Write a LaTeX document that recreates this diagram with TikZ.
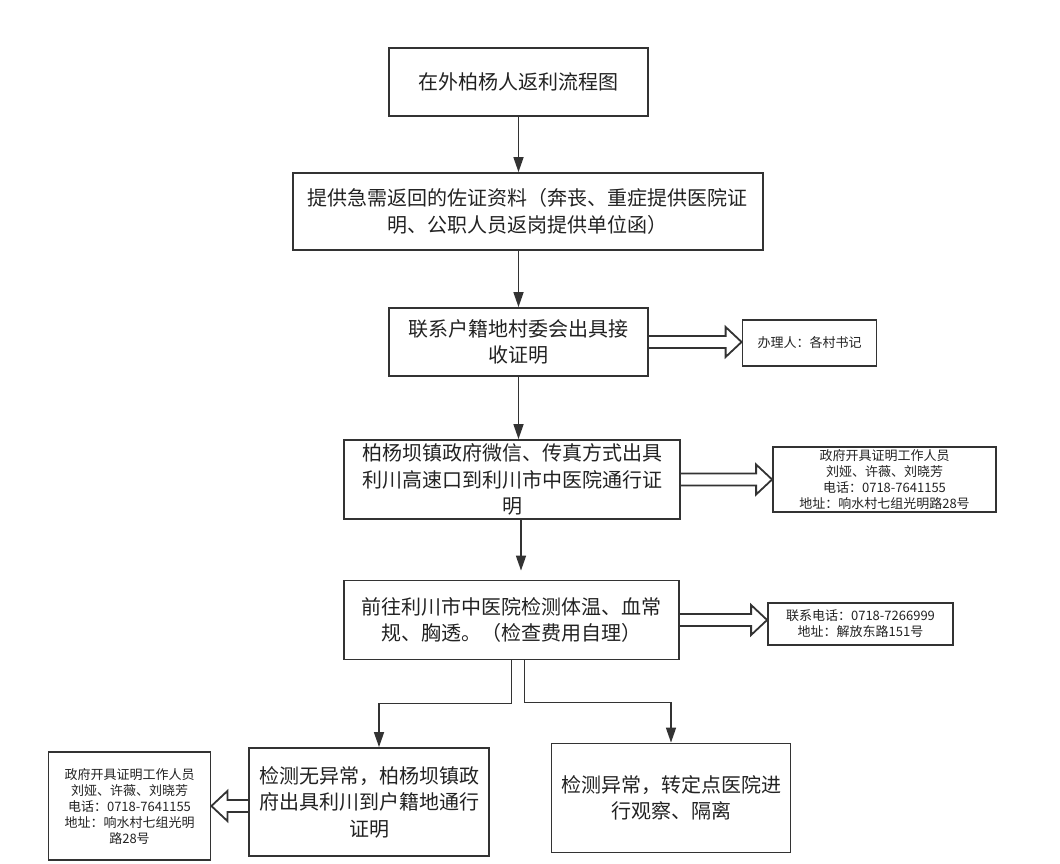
\documentclass[tikz,border=0pt]{standalone}
\usepackage{fontspec}
\usepackage{tikz}
\usetikzlibrary{arrows.meta}
\usetikzlibrary{calc}
\newfontfamily\cjk{Noto Sans CJK SC}
\definecolor{linegray}{HTML}{333333}
\definecolor{textgray}{HTML}{222222}
\newcommand{\fatarrow}[2]{%
  \draw [hollow] let \p1=(#1), \p2=(#2), \n1={16*sign(\x2-\x1)} in
    (\x1,{\y1+6pt}) -- ({\x2-\n1},{\y1+6pt}) -- ({\x2-\n1},{\y1+15pt}) -- (\x2,\y1)
    -- ({\x2-\n1},{\y1-15pt}) -- ({\x2-\n1},{\y1-6pt}) -- (\x1,{\y1-6pt});}

\begin{document}
\begin{tikzpicture}[x=1pt,y=-1pt]
\tikzset{mainbox/.style={draw=linegray, line width=1.8pt, inner sep=0pt, align=center, text=textgray, font=\cjk\fontsize{20}{26.5}\selectfont}}
\tikzset{sidebox/.style={draw=linegray, line width=1.8pt, inner sep=0pt, align=center, text=textgray, font=\cjk\fontsize{13}{16}\selectfont}}
\tikzset{flow/.style={draw=linegray, line width=1.6pt, -{Triangle[length=15pt,width=10pt]}}}
\tikzset{hollow/.style={draw=linegray, line width=1.8pt, line join=miter}}

\useasboundingbox (0,0) rectangle (1060,864);

\node [mainbox, minimum width=259pt, minimum height=68pt] (title) at (518.5,82) {在外柏杨人返利流程图};
\node [mainbox, minimum width=470pt, minimum height=77pt] (proof) at (527.7,211.5) {提供急需返回的佐证资料（奔丧、重症提供医院证\\明、公职人员返岗提供单位函）};
\node [mainbox, minimum width=259pt, minimum height=68pt] (village) at (518.5,342) {联系户籍地村委会出具接\\收证明};
\node [mainbox, minimum width=336pt, minimum height=79pt] (govt) at (512,479.5) {柏杨坝镇政府微信、传真方式出具\\利川高速口到利川市中医院通行证\\明};
\node [mainbox, minimum width=335pt, minimum height=79pt] (hosp) at (511.5,620) {前往利川市中医院检测体温、血常\\规、胸透。（检查费用自理）};
\node [mainbox, minimum width=240pt, minimum height=108pt] (normal) at (369,802) {检测无异常，柏杨坝镇政\\府出具利川到户籍地通行\\证明};
\node [mainbox, minimum width=239pt, minimum height=109pt] (abnormal) at (671,798) {检测异常，转定点医院进\\行观察、隔离};

\node [sidebox, minimum width=134pt, minimum height=46pt] (clerk) at (809.5,343) {办理人：各村书记};
\node [sidebox, minimum width=223pt, minimum height=65pt] (staff) at (884.5,479.5) {政府开具证明工作人员\\刘娅、许薇、刘晓芳\\电话：0718-7641155\\地址：响水村七组光明路28号};
\node [sidebox, minimum width=185pt, minimum height=42pt] (contact) at (860.5,624) {联系电话：0718-7266999\\地址：解放东路151号};
\node [sidebox, minimum width=162pt, minimum height=108pt] (staffb) at (129.5,806) {政府开具证明工作人员\\刘娅、许薇、刘晓芳\\电话：0718-7641155\\地址：响水村七组光明\\路28号};

\draw [flow] (title.south) -- (title.south |- proof.north);
\draw [flow] (village.north |- proof.south) -- (village.north);
\draw [flow] (village.south) -- (village.south |- govt.north);
\draw [flow, shorten >=9pt] ([xshift=9pt]govt.south) -- ([xshift=9pt]govt.south |- hosp.north);
\draw [flow] (hosp.south) -- ++(0,43) -| ([xshift=10pt]normal.north);
\draw [flow] ([xshift=13pt]hosp.south) -- ++(0,42) -| (abnormal.north);

\fatarrow{village.east}{clerk.west}
\fatarrow{govt.east}{staff.west}
\fatarrow{hosp.east}{contact.west}
\fatarrow{normal.west |- staffb.east}{staffb.east}
\end{tikzpicture}
\end{document}
